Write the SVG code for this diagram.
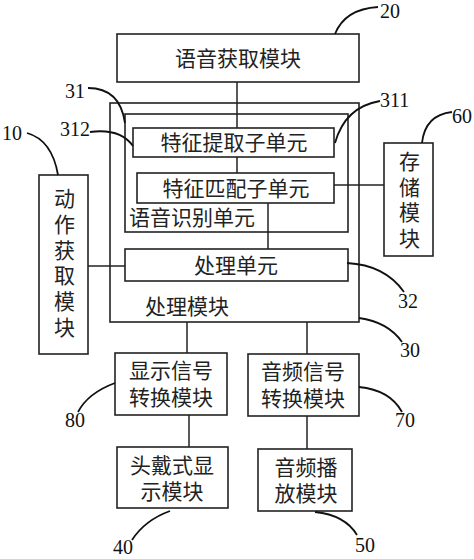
<svg xmlns="http://www.w3.org/2000/svg" width="474" height="559" viewBox="0 0 474 559">
<style>
.box{fill:#fff;stroke:#222;stroke-width:1.6}
.ln{fill:none;stroke:#222;stroke-width:1.5}
.ld{fill:none;stroke:#111;stroke-width:1.8}
.t{font-family:"Liberation Sans","Noto Sans CJK SC","Noto Sans CJK JP",sans-serif;font-size:21px;fill:#222;dominant-baseline:central;text-anchor:middle}
.ts{text-anchor:start}
.v{writing-mode:vertical-rl;letter-spacing:4.7px}
.n{font-family:"Liberation Serif","Times New Roman",serif;font-size:20px;fill:#111}
</style>
<rect width="474" height="559" fill="#fff"/>
<g id="n30">
<rect class="box" x="110" y="103" width="249" height="219"/>
<text class="t ts" x="145" y="306">处理模块</text>
</g>
<g id="n31">
<rect class="box" x="125" y="114" width="223" height="118"/>
<text class="t ts" x="129" y="217">语音识别单元</text>
</g>
<g id="n20">
<rect class="box" x="117" y="34" width="242" height="48"/>
<text class="t" x="238" y="58">语音获取模块</text>
</g>
<g id="n312">
<rect class="box" x="133" y="128" width="201" height="29"/>
<text class="t" x="234" y="142">特征提取子单元</text>
</g>
<g id="n311">
<rect class="box" x="137" y="173" width="197" height="30"/>
<text class="t" x="236" y="188">特征匹配子单元</text>
</g>
<g id="n32">
<rect class="box" x="125" y="249" width="223" height="32"/>
<text class="t" x="236" y="265">处理单元</text>
</g>
<g id="n10">
<rect class="box" x="39" y="175" width="49" height="179"/>
<text class="t v" x="63" y="265">动作获取模块</text>
</g>
<g id="n60">
<rect class="box" x="384" y="143" width="49" height="113"/>
<text class="t v" x="408" y="202">存储模块</text>
</g>
<g id="n80">
<rect class="box" x="115" y="353" width="112" height="62"/>
<text class="t" x="171" y="370">显示信号</text>
<text class="t" x="171" y="397">转换模块</text>
</g>
<g id="n70">
<rect class="box" x="248" y="354" width="111" height="62"/>
<text class="t" x="303" y="371">音频信号</text>
<text class="t" x="303" y="398">转换模块</text>
</g>
<g id="n40">
<rect class="box" x="117" y="447" width="111" height="61"/>
<text class="t" x="172" y="465">头戴式显</text>
<text class="t" x="172" y="491">示模块</text>
</g>
<g id="n50">
<rect class="box" x="258" y="449" width="94" height="62"/>
<text class="t" x="306" y="467">音频播</text>
<text class="t" x="306" y="493">放模块</text>
</g>
<g id="connectors">
<path class="ln" d="M237,82V128"/>
<path class="ln" d="M237,157V173"/>
<path class="ln" d="M334,185H384"/>
<path class="ln" d="M268,203V249"/>
<path class="ln" d="M88,266H125"/>
<path class="ln" d="M187,322V353"/>
<path class="ln" d="M307,322V354"/>
<path class="ln" d="M189,415V447"/>
<path class="ln" d="M307,416V449"/>
</g>
<g id="labels">
<path class="ld" d="M335,34Q345,9 378,7"/>
<text class="n" x="380" y="18">20</text>
<path class="ld" d="M88,88Q120,88 125,123"/>
<text class="n" x="65" y="98">31</text>
<path class="ld" d="M90,132Q120,128 133,146"/>
<text class="n" x="60" y="136">312</text>
<path class="ld" d="M27,133Q52,140 58,175"/>
<text class="n" x="2" y="140">10</text>
<path class="ld" d="M335,143Q345,107 380,101"/>
<text class="n" x="380" y="107">311</text>
<path class="ld" d="M422,143Q425,115 452,112"/>
<text class="n" x="452" y="123">60</text>
<path class="ld" d="M347,263Q385,265 404,292"/>
<text class="n" x="398" y="308">32</text>
<path class="ld" d="M359,318Q388,322 402,342"/>
<text class="n" x="400" y="357">30</text>
<path class="ld" d="M115,383Q88,393 78,412"/>
<text class="n" x="65" y="427">80</text>
<path class="ld" d="M359,387Q390,390 402,412"/>
<text class="n" x="395" y="427">70</text>
<path class="ld" d="M170,511Q145,520 132,540"/>
<text class="n" x="113" y="554">40</text>
<path class="ld" d="M315,512Q345,515 357,535"/>
<text class="n" x="355" y="552">50</text>
</g>
</svg>
